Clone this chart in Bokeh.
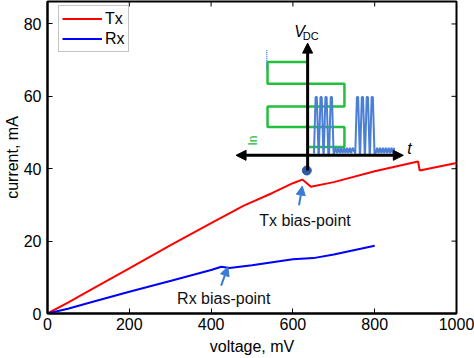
import math
from bokeh.plotting import figure
from bokeh.models import (FixedTicker, Legend, LegendItem, Arrow, NormalHead, Range1d)
from bokeh.core.properties import value
from bokeh.embed import file_html
from bokeh.resources import INLINE

# ---------------- data ----------------
tx_v = [0, 50, 100, 200, 300, 400, 480, 550, 600, 623, 632, 644, 700, 800, 906, 910, 1000]
tx_i = [0, 3.0, 6.2, 12.5, 18.8, 25.0, 29.8, 33.3, 36.0, 37.0, 36.2, 35.0, 36.3, 39.3, 42.0, 39.5, 41.6]

rx_v = [0, 50, 100, 200, 300, 400, 425, 445, 460, 500, 600, 650, 700, 800]
rx_i = [0, 1.3, 2.9, 6.0, 9.0, 12.0, 12.9, 12.6, 12.8, 13.3, 15.0, 15.3, 16.3, 18.7]

x_ticks = [0, 200, 400, 600, 800, 1000]
y_ticks = [0, 20, 40, 60, 80]
x_lim = (0, 1000)
y_lim = (0, 86.2)

# inset diagram (drawn in data units)
inset_vaxis = dict(x=636, y0=39.5, y1=74.7)
inset_haxis = dict(y=43.7, x0=461, x1=870)
inset_dot = ([634], [39.5])
green_x = [636, 538, 538, 726, 726, 538, 538, 726, 726, 636]
green_y = [69.5, 69.5, 63.5, 63.5, 57.2, 57.2, 51.5, 51.5, 46.0, 46.0]
dotted_x = [536, 536]
dotted_y = [72.7, 67.2]
burst1 = [657, 669, 681, 694]
burst2 = [758, 770, 782, 794]
ripple1 = [704, 711, 718, 725, 732, 739, 746]
ripple2 = [806, 813, 820, 827, 834, 841, 848]
pulse_base, pulse_peak = 44.2, 59.8
ripple_low, ripple_high = 44.3, 45.8

# annotation texts / arrows
ann_text = ["Tx bias-point", "Rx bias-point"]
ann_x = [629.5, 431]
ann_y = [25.8, 4.2]
ann_arrows = [((615, 29.9), (623, 35.2)), ((424.6, 7.7), (441, 12.9))]

FONT = "Liberation Sans"
W, H = 474, 358
ML, MR, MT, MB = 46, 18, 1, 45

p = figure(width=W, height=H, output_backend="svg", toolbar_location=None,
           x_range=Range1d(*x_lim), y_range=Range1d(*y_lim),
           min_border_left=ML, min_border_right=MR, min_border_top=MT, min_border_bottom=MB,
           background_fill_color="white", border_fill_color="white")
p.grid.visible = False
p.outline_line_color = "black"
p.outline_line_width = 2

p.xaxis.ticker = FixedTicker(ticks=x_ticks)
p.yaxis.ticker = FixedTicker(ticks=y_ticks)
p.xaxis.axis_label = "voltage, mV"
p.yaxis.axis_label = "current, mA"
for ax in (p.xaxis[0], p.yaxis[0]):
    ax.axis_line_width = 2
    ax.major_tick_in = 5
    ax.major_tick_out = 0
    ax.minor_tick_line_color = None
    ax.major_label_text_font = FONT
    ax.major_label_text_font_size = "16px"
    ax.major_label_text_color = "black"
    ax.axis_label_text_font = FONT
    ax.axis_label_text_font_size = "16px"
    ax.axis_label_text_font_style = "normal"
    ax.axis_label_text_color = "black"
p.xaxis.major_label_standoff = 4
p.xaxis.axis_label_standoff = 5
p.yaxis.major_label_standoff = 6
p.yaxis.axis_label_standoff = 0

# box ticks on top and right (inward)
frame_w = W - ML - MR
frame_h = H - MT - MB
tick_len_y = 5 * (y_lim[1] - y_lim[0]) / frame_h
tick_len_x = 5 * (x_lim[1] - x_lim[0]) / frame_w
p.segment(x0=x_ticks, x1=x_ticks, y0=[y_lim[1]] * len(x_ticks),
          y1=[y_lim[1] - tick_len_y] * len(x_ticks), line_color="black", line_width=1)
p.segment(x0=[x_lim[1]] * len(y_ticks), x1=[x_lim[1] - tick_len_x] * len(y_ticks),
          y0=y_ticks, y1=y_ticks, line_color="black", line_width=1)

# curves
r_tx = p.line(tx_v, tx_i, line_color="#ff0000", line_width=2)
r_rx = p.line(rx_v, rx_i, line_color="#0000ff", line_width=2)

legend = Legend(items=[LegendItem(label="Tx", renderers=[r_tx]),
                       LegendItem(label="Rx", renderers=[r_rx])],
                location=(11, 261), orientation="vertical",
                label_text_font=FONT, label_text_font_size="16px", label_text_color="black",
                glyph_width=40, glyph_height=19, label_height=19, spacing=1,
                padding=3, margin=0, label_standoff=3,
                border_line_color="#888888", border_line_width=1,
                background_fill_color="white", background_fill_alpha=1)
p.add_layout(legend)

# ---- inset diagram ----
GREEN = "#22c03c"
PULSE = "#4a7fd4"
p.line(green_x, green_y, line_color=GREEN, line_width=2.5)
p.line(dotted_x, dotted_y, line_color=PULSE, line_width=1.5, line_dash="1 1")

px, py = [], []
for c in burst1:
    px += [c - 5.5, c - 1.5, c + 1.5, c + 5.5]
    py += [pulse_base, pulse_peak, pulse_peak, pulse_base]
for c in ripple1:
    px += [c - 3.5, c]
    py += [ripple_low, ripple_high]
for c in burst2:
    px += [c - 5.5, c - 1.5, c + 1.5, c + 5.5]
    py += [pulse_base, pulse_peak, pulse_peak, pulse_base]
for c in ripple2:
    px += [c - 3.5, c]
    py += [ripple_low, ripple_high]
p.line(px, py, line_color=PULSE, line_width=2)

head = dict(size=10, fill_color="black", line_color="black")
p.add_layout(Arrow(end=NormalHead(**head), line_color="black", line_width=3,
                   x_start=inset_vaxis["x"], y_start=inset_vaxis["y0"],
                   x_end=inset_vaxis["x"], y_end=inset_vaxis["y1"]))
p.add_layout(Arrow(start=NormalHead(**head), end=NormalHead(**head), line_color="black",
                   line_width=3,
                   x_start=inset_haxis["x0"], y_start=inset_haxis["y"],
                   x_end=inset_haxis["x1"], y_end=inset_haxis["y"]))
p.scatter(inset_dot[0], inset_dot[1], size=9, fill_color="#2f5aa8", line_color="#2f5aa8")

p.text(x=[603], y=[77.8], text=["V"], text_font=value(FONT), text_font_size="16px",
       text_font_style="italic", text_baseline="alphabetic", text_color="black")
p.text(x=[624], y=[76.8], text=["DC"], text_font=value(FONT), text_font_size="11px",
       text_baseline="alphabetic", text_color="black")
p.text(x=[879.6], y=[45.5], text=["t"], text_font=value(FONT), text_font_size="16px",
       text_font_style="italic", text_baseline="alphabetic", text_color="black")
p.text(x=[502], y=[47.8], text=["In"], text_font=value(FONT), text_font_size="12px",
       angle=math.pi / 2, text_align="center", text_baseline="middle", text_color=GREEN)

# annotations
ACOL = "#3a7bd5"
p.text(x=ann_x, y=ann_y, text=ann_text, text_font=value(FONT), text_font_size="16px",
       text_align="center", text_baseline="alphabetic", text_color="#111111")
for (s, e) in ann_arrows:
    p.add_layout(Arrow(end=NormalHead(size=9, fill_color=ACOL, line_color=ACOL),
                       line_color=ACOL, line_width=2,
                       x_start=s[0], y_start=s[1], x_end=e[0], y_end=e[1]))

open("out.html", "w").write(file_html(p, INLINE))
